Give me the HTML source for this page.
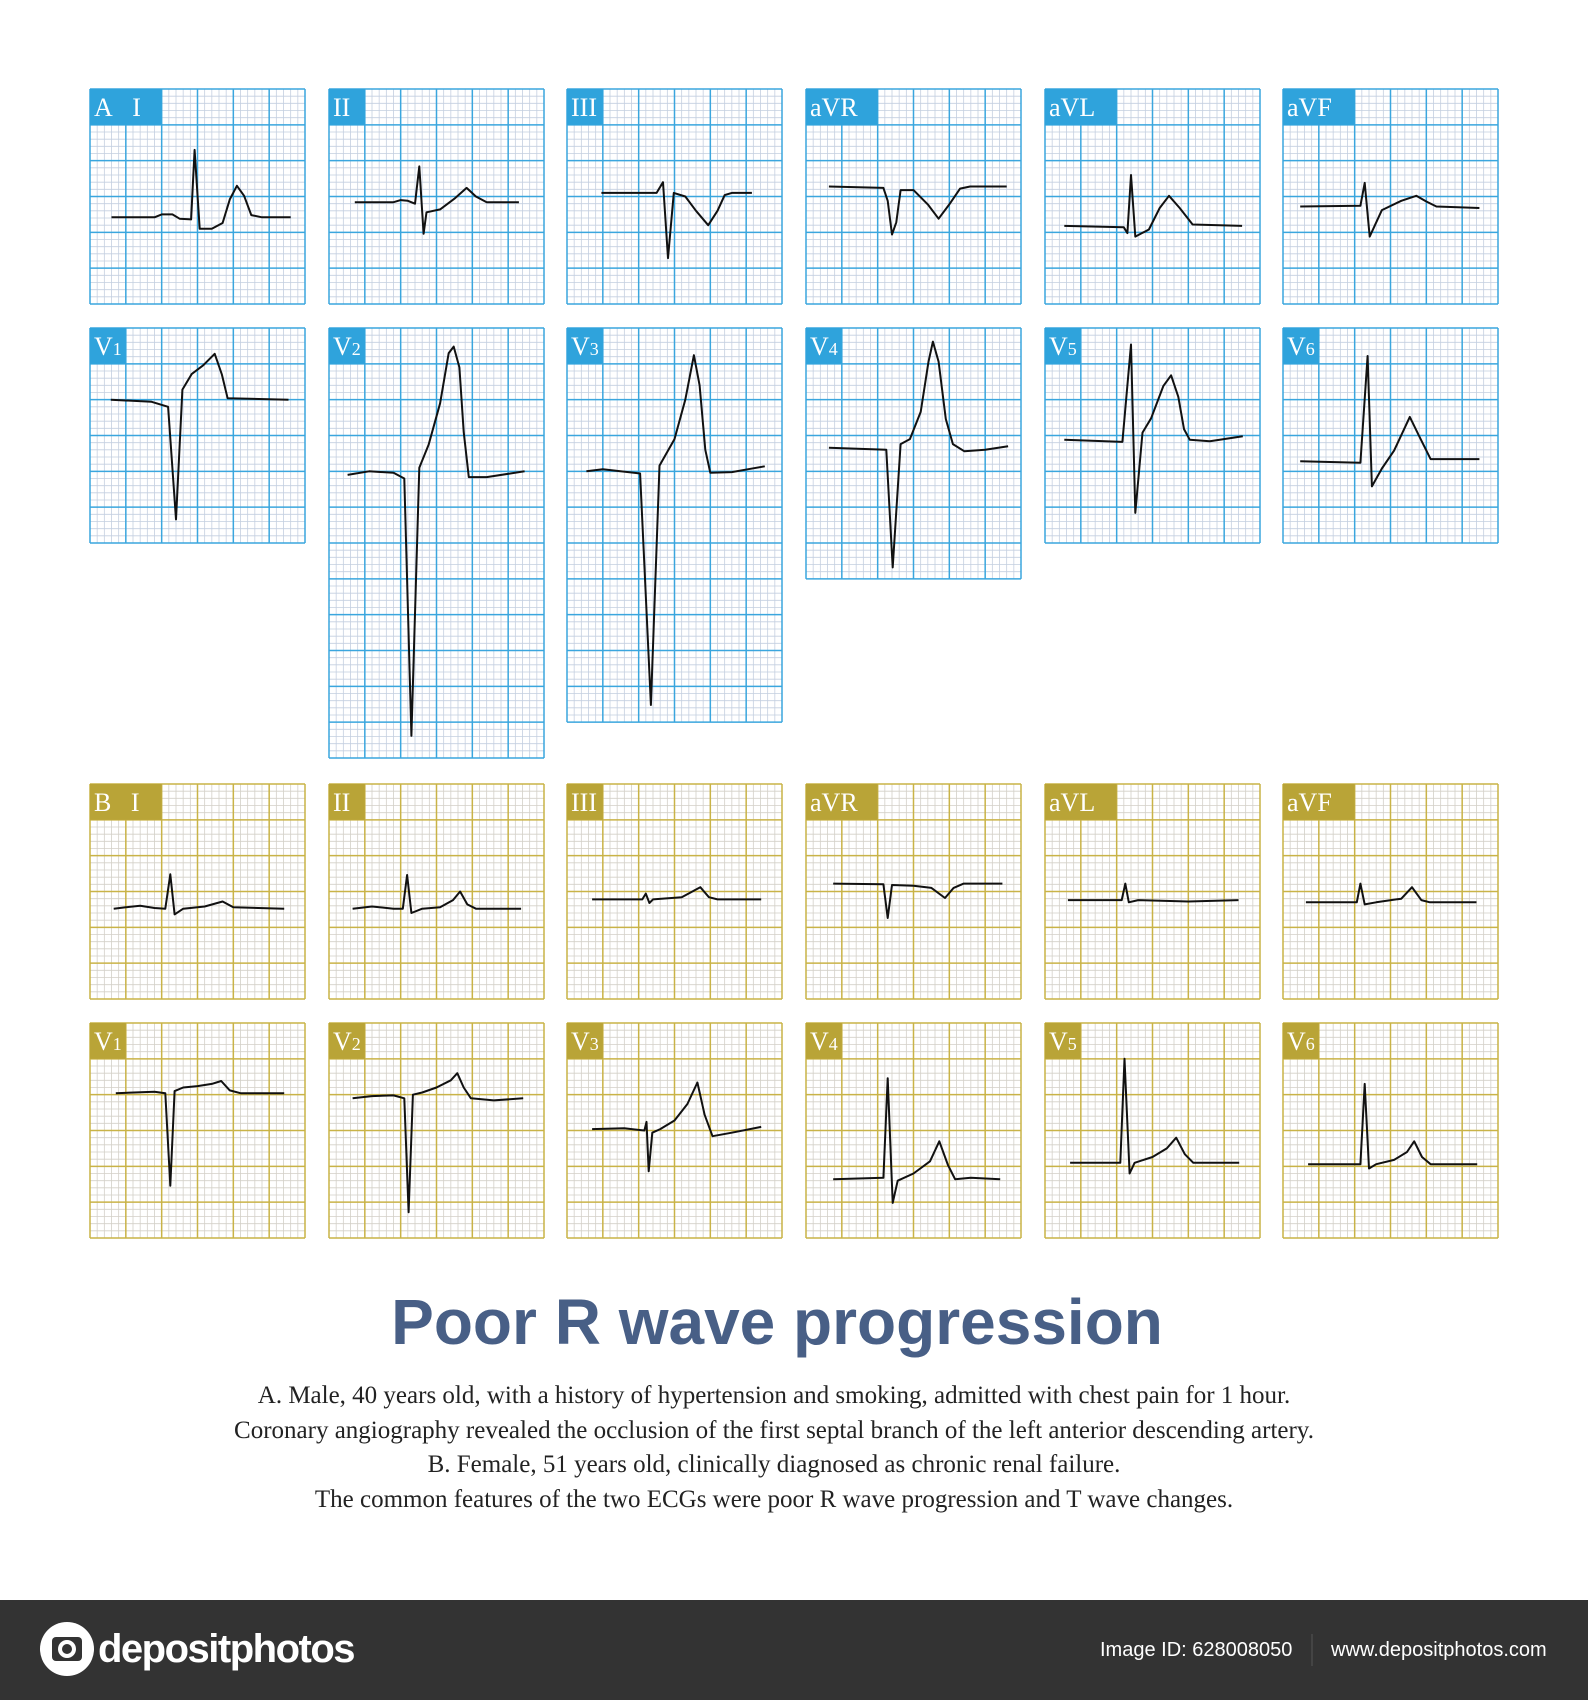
<!DOCTYPE html>
<html><head><meta charset="utf-8">
<style>
body{margin:0;background:#fff;width:1588px;height:1700px;position:relative;overflow:hidden;font-family:"Liberation Sans",sans-serif}
#ecg{position:absolute;left:0;top:0}
.title{position:absolute;left:0;width:1554px;top:1286px;text-align:center;font:bold 64px "Liberation Sans",sans-serif;color:#485f86;line-height:72px}
.desc{position:absolute;left:0;width:1548px;top:1379px;text-align:center;font:25px "Liberation Serif",serif;color:#222;line-height:34.7px}
.footer{position:absolute;left:0;top:1600px;width:1588px;height:100px;background:#333}
</style></head><body>
<svg id="ecg" width="1588" height="1600" xmlns="http://www.w3.org/2000/svg"></svg>
<div class="title">Poor R wave progression</div>
<div class="desc">A. Male, 40 years old, with a history of hypertension and smoking, admitted with chest pain for 1 hour.<br>Coronary angiography revealed the occlusion of the first septal branch of the left anterior descending artery.<br>B. Female, 51 years old, clinically diagnosed as chronic renal failure.<br>The common features of the two ECGs were poor R wave progression and T wave changes.</div>
<div class="footer">
 <svg width="1588" height="100">
  <circle cx="67" cy="49" r="27" fill="#fff"/>
  <rect x="52" y="37" width="30" height="24" rx="4" fill="#333"/>
  <circle cx="67" cy="49" r="9" fill="#fff"/><circle cx="67" cy="49" r="5" fill="#333"/>
  <text x="98" y="62" font-family="Liberation Sans" font-weight="bold" font-size="40" fill="#fff" letter-spacing="-1.5">depositphotos</text>
  <text x="1100" y="56" font-family="Liberation Sans" font-size="20" fill="#fff">Image ID: 628008050</text>
  <line x1="1312" y1="34" x2="1312" y2="66" stroke="#555" stroke-width="1"/>
  <text x="1331" y="56" font-family="Liberation Sans" font-size="20" fill="#fff">www.depositphotos.com</text>
 </svg>
</div>
<script>
// Traces: [x in mm from panel left, amplitude in mm above baseline]
const A_I=[[3,0],[9,0],[10,.4],[11.5,.4],[12.5,-.2],[14.1,-.3],[14.6,9.4],[15.3,-1.6],[17,-1.6],[18.5,-.8],[19.5,2.5],[20.5,4.4],[21.5,3],[22.5,.3],[24,0],[28,0]];
const A_II=[[3.6,0],[9,0],[10,.3],[11,.2],[12,-.2],[12.6,5],[13.2,-4.4],[13.6,-1.4],[15.5,-1],[17.5,.5],[19.2,2],[20.5,.8],[22,0],[26.5,0]];
const A_III=[[4.8,0],[12.5,0],[13.4,1.5],[14.1,-9.1],[14.9,0],[16.5,-.5],[18,-2.5],[19.7,-4.5],[21,-2.5],[22,-.3],[23,0],[25.8,0]];
const A_aVR=[[3.2,0],[10.8,-.2],[11.4,-2],[12,-6.7],[12.6,-5],[13.2,-.5],[15,-.5],[17,-2.5],[18.5,-4.5],[20,-2.5],[21.5,-.3],[22.9,0],[28,0]];
const A_aVL=[[2.7,0],[11,-.2],[11.5,-1],[12,7.1],[12.6,-1.5],[14.5,-.5],[16,2.5],[17.3,4.2],[18.8,2.5],[20.6,.2],[27.5,0]];
const A_aVF=[[2.4,0],[10.8,.1],[11.4,3.3],[12.1,-4.2],[13.8,-.5],[16.5,.8],[18.6,1.5],[20,.7],[21.4,0],[27.4,-.2]];
const A_V1=[[2.9,0],[8.6,-.3],[10.9,-1],[12,-16.7],[12.9,1.4],[14.2,3.6],[15.8,4.8],[17.4,6.4],[18.4,3.5],[19.2,.2],[27.7,0]];
const A_V2=[[2.6,0],[5.6,.5],[9,.3],[10.5,-.5],[11.5,-36.4],[12.6,1],[13.9,4.2],[15.5,10],[16.7,17],[17.4,17.9],[18.2,15],[18.8,6],[19.5,-.3],[22,-.3],[27.3,.5]];
const A_V3=[[2.7,0],[5,.3],[10.2,-.3],[11.7,-32.6],[12.9,.8],[15,4.5],[16.5,10],[17.7,16.2],[18.5,12],[19.3,3],[20,-.2],[23,-.1],[25.3,.3],[27.6,.7]];
const A_V4=[[3.2,0],[11.2,-.3],[12.1,-16.7],[13.2,.5],[14.5,1.2],[16,5],[17.1,12],[17.7,14.8],[18.5,12],[19.5,4],[20.5,.5],[22.1,-.5],[25,-.3],[28.2,.2]];
const A_V5=[[2.7,0],[10.8,-.3],[12,13.3],[12.6,-10.2],[13.6,1],[14.8,3],[16.5,7.5],[17.6,9],[18.6,6],[19.4,1.5],[20.2,0],[23,-.2],[27.6,.5]];
const A_V6=[[2.4,0],[10.8,-.2],[11.8,14.7],[12.4,-3.5],[13.8,-1],[15.5,1.5],[17.7,6.2],[19,3.5],[20.6,.3],[27.4,.3]];
const B_I=[[3.3,0],[5,.2],[7,.4],[9,.1],[10.5,0],[11.2,4.8],[11.8,-.8],[13,0],[16,.3],[18.5,1],[20,.2],[27.1,0]];
const B_II=[[3.3,0],[6,.3],[9,0],[10.3,0],[10.9,4.7],[11.5,-.6],[13,0],[15.5,.2],[17.3,1.2],[18.3,2.4],[19.3,.6],[20.5,0],[26.8,0]];
const B_III=[[3.5,0],[10.5,0],[11,.8],[11.5,-.5],[12,0],[16,.3],[17.3,1],[18.6,1.7],[19.8,.3],[21,0],[27.1,0]];
const B_aVR=[[3.8,0],[10.8,-.1],[11.4,-4.8],[12,-.2],[15,-.3],[17.5,-.6],[19.4,-2],[20.6,-.6],[22,0],[27.4,0]];
const B_aVL=[[3.2,0],[10.7,0],[11.2,2.3],[11.7,-.3],[13,0],[20,-.2],[27,0]];
const B_aVF=[[3.2,0],[10.3,0],[10.8,2.6],[11.4,-.3],[13,0],[16.5,.5],[18,2.1],[19.3,.3],[20.5,0],[27,0]];
const B_V1=[[3.6,0],[9,.2],[10.5,0],[11.2,-12.9],[11.8,.3],[13,.8],[15,1],[17,1.3],[18.3,1.7],[19.5,.4],[21,0],[27.1,0]];
const B_V2=[[3.3,0],[6,.3],[9,.4],[10.5,0],[11.1,-15.9],[11.7,.5],[13,.8],[15,1.5],[17,2.5],[17.9,3.5],[18.8,1.5],[19.8,0],[23,-.3],[27.1,0]];
const B_V3=[[3.5,0],[8,.1],[10.8,-.2],[11.1,1],[11.4,-5.9],[11.9,-.5],[13,0],[15,1.2],[16.8,3.5],[18.2,6.5],[19.2,2],[20.3,-1],[23,-.5],[27.1,.3]];
const B_V4=[[3.8,0],[10.8,.2],[11.4,14.1],[12.1,-3.3],[12.8,-.2],[15,.8],[17.3,2.5],[18.6,5.3],[19.8,2],[20.8,0],[23,.2],[27.1,0]];
const B_V5=[[3.5,0],[10.5,0],[11.1,14.5],[11.8,-1.5],[12.5,0],[15,.8],[17,2],[18.3,3.5],[19.5,1.2],[20.7,0],[27.1,0]];
const B_V6=[[3.5,0],[10.8,0],[11.4,11.2],[12,-.6],[13,0],[15.5,.6],[17.3,1.7],[18.3,3.2],[19.4,1],[20.6,0],[27.1,0]];

const leadLabels=["I","II","III","aVR","aVL","aVF","V1","V2","V3","V4","V5","V6"];
const tracesA=[A_I,A_II,A_III,A_aVR,A_aVL,A_aVF,A_V1,A_V2,A_V3,A_V4,A_V5,A_V6];
const tracesB=[B_I,B_II,B_III,B_aVR,B_aVL,B_aVF,B_V1,B_V2,B_V3,B_V4,B_V5,B_V6];
const baselinesA=[17.9,15.8,14.5,13.6,19.1,16.4,10,20.5,20,16.7,15.6,18.6];
const baselinesB=[17.4,17.4,16.1,13.9,16.2,16.5,9.8,10.5,14.8,21.8,19.5,19.7];
const heightsA=[30,30,30,30,30,30,30,60,55,35,30,30];
const heightsB=[30,30,30,30,30,30,30,30,30,30,30,30];

const MM=215/30, NS="http://www.w3.org/2000/svg";
const colLeft=[90,329,567,806,1045,1283];
const rowTop={A:[89,328],B:[784,1023]};
const svg=document.getElementById('ecg');
function mk(t,a,p){const e=document.createElementNS(NS,t);for(const k in a)e.setAttribute(k,a[k]);(p||svg).appendChild(e);return e;}
function xS(left,mm){return left+mm*MM;}
function yS(top,base,mm){return top+(base-mm)*MM;}

function panel(group,i,trace,base,hmm){
  const left=colLeft[i%6], top=rowTop[group][Math.floor(i/6)];
  const major=group==='A'?'#3aa6de':'#c9b347', minor=group==='A'?'#c4cfe0':'#d3d0c8', boxc=group==='A'?'#2fa3dc':'#b9a437';
  const g=mk('g',{});
  
  
  const W=30*MM,H=hmm*MM;
  let d='';
  for(let k=0;k<=30;k++){if(k%5)d+=`M${(left+k*MM).toFixed(2)} ${top}V${top+H}`;}
  for(let k=0;k<=hmm;k++){if(k%5)d+=`M${left} ${(top+k*MM).toFixed(2)}H${left+W}`;}
  mk('path',{d,stroke:minor,'stroke-width':0.8,fill:'none'},g);
  d='';
  for(let k=0;k<=30;k+=5)d+=`M${(left+k*MM).toFixed(2)} ${top}V${top+H}`;
  for(let k=0;k<=hmm;k+=5)d+=`M${left} ${(top+k*MM).toFixed(2)}H${left+W}`;
  mk('path',{d,stroke:major,'stroke-width':1.5,fill:'none'},g);
  const lab=leadLabels[i];
  let bw=(i===0||lab.startsWith('a'))?10:5;
  const box=mk('rect',{x:left,y:top,width:bw*MM,height:5*MM,fill:boxc},g);
  
  
  const t=mk('text',{x:left+4,y:top+27,fill:'#fff','font-family':'Liberation Serif, serif','font-size':26},g);
  
  
  if(i===0){t.textContent=group+'\u00a0\u00a0\u00a0I';}
  else if(lab[0]==='V'){t.textContent='V';const s=mk('tspan',{'font-size':18},t);s.textContent=lab[1];}
  else t.textContent=lab;
  const pd=trace.map((p,j)=>(j?'L':'M')+xS(left,p[0]).toFixed(1)+' '+yS(top,base,p[1]).toFixed(1)).join('');
  const tr=mk('path',{d:pd,stroke:'#111','stroke-width':2,fill:'none','stroke-linejoin':'round'},g);
  
  
}
for(let i=0;i<12;i++){panel('A',i,tracesA[i],baselinesA[i],heightsA[i]);panel('B',i,tracesB[i],baselinesB[i],heightsB[i]);}
</script>
</body></html>
